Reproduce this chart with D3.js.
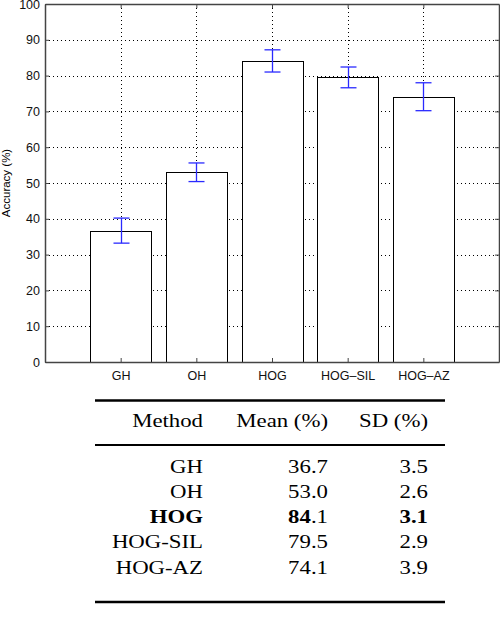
<!DOCTYPE html>
<html>
<head>
<meta charset="utf-8">
<script src="https://cdn.jsdelivr.net/npm/d3@7"></script>
<style>
  body { margin: 0; background: #fff; }
  svg { display: block; }
  .axis text { font-family: "Liberation Sans", Arial, sans-serif; font-size: 12.5px; fill: #111; }
  .axis path, .axis line { stroke: #444; }
  .tbl { font-family: "Liberation Serif", "Times New Roman", serif; font-size: 19px; fill: #000; }
</style>
</head>
<body>
<div class="chartdiv"></div>
<script>
// data
var methods = ["GH", "OH", "HOG", "HOG-SIL", "HOG-AZ"];
var means = [36.7, 53.0, 84.1, 79.5, 74.1];
var sds = [3.5, 2.6, 3.1, 2.9, 3.9];
var yTicks = [0, 10, 20, 30, 40, 50, 60, 70, 80, 90, 100];
var meanLabels = ["36.7", "53.0", "84.1", "79.5", "74.1"];
var sdLabels = ["3.5", "2.6", "3.1", "2.9", "3.9"];
var bestRow = 2;

var W = 500, H = 617;
var plot = {left: 45, right: 499, top: 4, bottom: 362};

var svg = d3.select(".chartdiv").append("svg")
    .attr("width", W)
    .attr("height", H);

// scales: categories sit at 1..n, like a matlab bar plot
var x = d3.scaleLinear().domain([0, methods.length + 1]).range([plot.left, plot.right]);
var y = d3.scaleLinear().domain([0, 100]).range([plot.bottom, plot.top]);
var barW = 0.8;

var data = methods.map(function(m, i) {
  return {method: m, pos: i + 1, mean: means[i], sd: sds[i]};
});

// dotted grid
var grid = svg.append("g").attr("stroke", "#000").attr("stroke-width", 1)
    .attr("stroke-dasharray", "1,3");
grid.selectAll(".hgrid")
    .data(yTicks.slice(1, -1))
  .enter().append("line")
    .attr("x1", plot.left).attr("x2", plot.right)
    .attr("y1", function(d) { return Math.round(y(d)) + 0.5; })
    .attr("y2", function(d) { return Math.round(y(d)) + 0.5; });
grid.selectAll(".vgrid")
    .data(data)
  .enter().append("line")
    .attr("x1", function(d) { return Math.round(x(d.pos)) + 0.5; })
    .attr("x2", function(d) { return Math.round(x(d.pos)) + 0.5; })
    .attr("y1", plot.top).attr("y2", plot.bottom);

// bars
svg.selectAll(".bar")
    .data(data)
  .enter().append("rect")
    .attr("class", "bar")
    .attr("x", function(d) { return Math.round(x(d.pos - barW / 2)) + 0.5; })
    .attr("width", function(d) { return Math.round(x(d.pos + barW / 2) - x(d.pos - barW / 2)); })
    .attr("y", function(d) { return Math.round(y(d.mean)) + 0.5; })
    .attr("height", function(d) { return Math.round(y(0) - y(d.mean)); })
    .attr("fill", "#fff")
    .attr("stroke", "#000")
    .attr("stroke-width", 1);

// error bars (mean +/- sd)
var capW = 8;
var err = svg.append("g").attr("stroke", "#2a2aff").attr("stroke-width", 1.3);
data.forEach(function(d) {
  var cx = Math.round(x(d.pos)) + 0.5;
  var lo = y(d.mean - d.sd), hi = y(d.mean + d.sd);
  err.append("line").attr("x1", cx).attr("x2", cx).attr("y1", lo).attr("y2", hi);
  err.append("line").attr("x1", cx - capW).attr("x2", cx + capW).attr("y1", lo).attr("y2", lo);
  err.append("line").attr("x1", cx - capW).attr("x2", cx + capW).attr("y1", hi).attr("y2", hi);
});

// axes with inward ticks
svg.append("g")
    .attr("class", "axis")
    .attr("transform", "translate(" + plot.left + ",0)")
    .call(d3.axisLeft(y).tickValues(yTicks).tickSize(-4).tickPadding(5).tickSizeOuter(0));

svg.append("g")
    .attr("class", "axis")
    .attr("transform", "translate(" + plot.right + ",0)")
    .call(d3.axisRight(y).tickValues(yTicks).tickSize(-4).tickSizeOuter(0).tickFormat(""));

// matlab prints the hyphen in tick labels as a longer dash
svg.append("g")
    .attr("class", "axis")
    .attr("transform", "translate(0," + plot.bottom + ")")
    .call(d3.axisBottom(x).tickValues(data.map(function(d) { return d.pos; }))
      .tickSize(-4).tickPadding(9).tickSizeOuter(0)
      .tickFormat(function(v) { return methods[v - 1].replace("-", "\u2013"); }));

svg.append("g")
    .attr("class", "axis")
    .attr("transform", "translate(0," + plot.top + ")")
    .call(d3.axisTop(x).tickValues(data.map(function(d) { return d.pos; }))
      .tickSize(-4).tickSizeOuter(0).tickFormat(""));

svg.selectAll(".axis path").attr("stroke-width", 1.5);

// y axis title
svg.append("text")
    .attr("transform", "translate(10," + (plot.top + plot.bottom) / 2 + ") rotate(-90)")
    .style("text-anchor", "middle")
    .style("font-family", "Liberation Sans, Arial, sans-serif")
    .style("font-size", "11.5px")
    .text("Accuracy (%)");

// table below the plot
var tbl = svg.append("g");
var tLeft = 95, tRight = 445;
var colRight = [203, 328, 428];
var sx = 1.2;

tbl.append("line").attr("x1", tLeft).attr("x2", tRight).attr("y1", 400.5).attr("y2", 400.5)
    .attr("stroke", "#000").attr("stroke-width", 2.5);
tbl.append("line").attr("x1", tLeft).attr("x2", tRight).attr("y1", 445).attr("y2", 445)
    .attr("stroke", "#000").attr("stroke-width", 2);
tbl.append("line").attr("x1", tLeft).attr("x2", tRight).attr("y1", 602).attr("y2", 602)
    .attr("stroke", "#000").attr("stroke-width", 2.5);

function cell(col, yb, str, bold) {
  var t = tbl.append("text")
      .attr("class", "tbl")
      .attr("transform", "translate(" + colRight[col] + "," + yb + ") scale(" + sx + ",1)")
      .style("text-anchor", "end");
  if (bold) t.style("font-weight", "bold");
  t.text(str);
  return t;
}

var headers = ["Method", "Mean (%)", "SD (%)"];
headers.forEach(function(h, i) { cell(i, 427, h, false); });

var rowY = d3.scaleLinear().domain([0, 4]).range([473, 573.5]);
methods.forEach(function(m, i) {
  var yb = rowY(i);
  var best = i === bestRow;
  cell(0, yb, m, best);
  if (best) {
    // only the integer part is bold in the source
    var parts = meanLabels[i].split(".");
    var t = cell(1, yb, "", false);
    t.append("tspan").style("font-weight", "bold").text(parts[0]);
    t.append("tspan").text("." + parts[1]);
  } else {
    cell(1, yb, meanLabels[i], false);
  }
  cell(2, yb, sdLabels[i], best);
});
</script>
</body>
</html>
